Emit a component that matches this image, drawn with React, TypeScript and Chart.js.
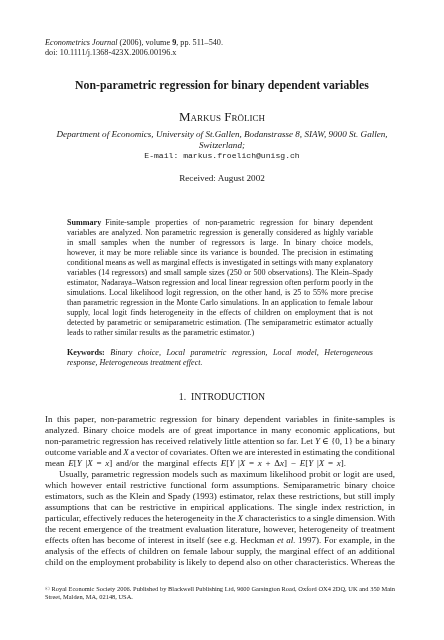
import { useEffect, useLayoutEffect, useRef } from 'react'
import { Chart, registerables } from 'chart.js'

Chart.register(...registerables)

// page text, line by line as set in the reference (*italic*, **bold**)
const headerLines = [
  '*Econometrics Journal* (2006), volume **9**, pp. 511–540.',
  'doi: 10.1111/j.1368-423X.2006.00196.x',
]
const titleText = 'Non-parametric regression for binary dependent variables'
const authorText = 'Markus Frölich'
const affiliationLines = [
  'Department of Economics, University of St.Gallen, Bodanstrasse 8, SIAW, 9000 St. Gallen,',
  'Switzerland;',
]
const emailText = 'E-mail: markus.froelich@unisg.ch'
const receivedText = 'Received: August 2002'
const summaryLines = [
  '**Summary**\u2002Finite-sample properties of non-parametric regression for binary dependent',
  'variables are analyzed. Non parametric regression is generally considered as highly variable',
  'in small samples when the number of regressors is large. In binary choice models,',
  'however, it may be more reliable since its variance is bounded. The precision in estimating',
  'conditional means as well as marginal effects is investigated in settings with many explanatory',
  'variables (14 regressors) and small sample sizes (250 or 500 observations). The Klein–Spady',
  'estimator, Nadaraya–Watson regression and local linear regression often perform poorly in the',
  'simulations. Local likelihood logit regression, on the other hand, is 25 to 55% more precise',
  'than parametric regression in the Monte Carlo simulations. In an application to female labour',
  'supply, local logit finds heterogeneity in the effects of children on employment that is not',
  'detected by parametric or semiparametric estimation. (The semiparametric estimator actually',
  'leads to rather similar results as the parametric estimator.)',
]
const keywordLines = [
  '**Keywords:** *Binary choice, Local parametric regression, Local model, Heterogeneous*',
  '*response, Heterogeneous treatment effect.*',
]
const sectionTitle = '1.\u2002INTRODUCTION'
const introLines = [
  'In this paper, non-parametric regression for binary dependent variables in finite-samples is',
  'analyzed. Binary choice models are of great importance in many economic applications, but',
  'non-parametric regression has received relatively little attention so far. Let *Y* ∈ {0, 1} be a binary',
  'outcome variable and *X* a vector of covariates. Often we are interested in estimating the conditional',
  'mean *E*[*Y* |*X* = *x*] and/or the marginal effects *E*[*Y* |*X* = *x* + Δ*x*] − *E*[*Y* |*X* = *x*].',
  'Usually, parametric regression models such as maximum likelihood probit or logit are used,',
  'which however entail restrictive functional form assumptions. Semiparametric binary choice',
  'estimators, such as the Klein and Spady (1993) estimator, relax these restrictions, but still imply',
  'assumptions that can be restrictive in empirical applications. The single index restriction, in',
  'particular, effectively reduces the heterogeneity in the *X* characteristics to a single dimension. With',
  'the recent emergence of the treatment evaluation literature, however, heterogeneity of treatment',
  'effects often has become of interest in itself (see e.g. Heckman *et al.* 1997). For example, in the',
  'analysis of the effects of children on female labour supply, the marginal effect of an additional',
  'child on the employment probability is likely to depend also on other characteristics. Whereas the',
]
const footnoteLines = [
  '© Royal Economic Society 2006. Published by Blackwell Publishing Ltd, 9600 Garsington Road, Oxford OX4 2DQ, UK and 350 Main',
  'Street, Malden, MA, 02148, USA.',
]

const SERIF = "'Liberation Serif', 'DejaVu Serif', serif"
const MONO = "'Liberation Mono', 'DejaVu Sans Mono', monospace"
const INK = '#1a1a1a'

function Rich({ text }: { text: string }) {
  const parts = text.split(/(\*\*[^*]+\*\*|\*[^*]+\*)/).filter(p => p !== '')
  return (
    <>
      {parts.map((p, i) => {
        if (p.startsWith('**')) return <b key={i}>{p.slice(2, -2)}</b>
        if (p.startsWith('*')) return <i key={i}>{p.slice(1, -1)}</i>
        return <span key={i}>{p}</span>
      })}
    </>
  )
}

type LineProps = {
  text: string
  y: number
  x: number
  w: number
  size: number
  align?: 'left' | 'center' | 'justify'
  family?: string
  style?: React.CSSProperties
}

function Line({ text, y, x, w, size, align = 'left', family = SERIF, style }: LineProps) {
  const spanRef = useRef<HTMLSpanElement>(null)
  const lh = size * 1.3

  // justified lines: spread (or squeeze) the word gaps so the line fills its measure
  useLayoutEffect(() => {
    const el = spanRef.current
    if (!el || align !== 'justify') return
    el.style.wordSpacing = '0px'
    const natural = el.getBoundingClientRect().width
    const gaps = (el.textContent || '').split(' ').length - 1
    if (gaps > 0) el.style.wordSpacing = `${(w - natural) / gaps}px`
  }, [text, w, size, align])

  return (
    <div
      style={{
        position: 'absolute',
        left: x,
        top: y - lh / 2,
        width: w,
        height: lh,
        lineHeight: `${lh}px`,
        fontSize: size,
        fontFamily: family,
        color: INK,
        textAlign: align === 'justify' ? 'left' : align,
        whiteSpace: 'nowrap',
        ...style,
      }}
    >
      <span ref={spanRef}>
        <Rich text={text} />
      </span>
    </div>
  )
}

export default function App() {
  const canvasRef = useRef<HTMLCanvasElement>(null)
  const chartRef = useRef<any>(null)

  useEffect(() => {
    if (!canvasRef.current) return
    if (chartRef.current) chartRef.current.destroy()

    // plain white page background, no plotted marks on this page
    chartRef.current = new Chart(canvasRef.current, {
      type: 'scatter',
      data: { datasets: [] },
      options: {
        animation: false,
        responsive: true,
        maintainAspectRatio: false,
        plugins: { legend: { display: false }, tooltip: { enabled: false } },
        scales: { x: { display: false }, y: { display: false } },
      },
      plugins: [
        {
          id: 'paper',
          beforeDraw: (c: any) => {
            const ctx = c.ctx
            ctx.save()
            ctx.fillStyle = '#ffffff'
            ctx.fillRect(0, 0, c.width, c.height)
            ctx.restore()
          },
        },
      ],
    })

    return () => { if (chartRef.current) chartRef.current.destroy() }
  }, [])

  return (
    <div style={{ position: 'fixed', left: 0, top: 0, width: 444, height: 640, background: '#fff', overflow: 'hidden' }}>
      <div style={{ position: 'absolute', inset: 0 }}>
        <canvas ref={canvasRef} />
      </div>

      {headerLines.map((t, i) => (
        <Line key={'h' + i} text={t} x={45} y={43 + i * 10} w={300} size={8.2} />
      ))}

      <Line text={titleText} x={0} y={86} w={444} size={11.8} align="center" style={{ fontWeight: 'bold' }} />
      <Line text={authorText} x={0} y={117} w={444} size={13} align="center" style={{ fontVariant: 'small-caps' }} />
      {affiliationLines.map((t, i) => (
        <Line key={'a' + i} text={t} x={0} y={135 + i * 10.5} w={444} size={9.1} align="center" style={{ fontStyle: 'italic' }} />
      ))}
      <Line text={emailText} x={0} y={156} w={444} size={8.1} align="center" family={MONO} />
      <Line text={receivedText} x={0} y={179} w={444} size={9.2} align="center" />

      {summaryLines.map((t, i) => (
        <Line key={'s' + i} text={t} x={67} y={223 + i * 10} w={306} size={8.1}
          align={i === summaryLines.length - 1 ? 'left' : 'justify'} />
      ))}
      {keywordLines.map((t, i) => (
        <Line key={'k' + i} text={t} x={67} y={353 + i * 10} w={306} size={8.1}
          align={i === keywordLines.length - 1 ? 'left' : 'justify'} />
      ))}

      <Line text={sectionTitle} x={0} y={397} w={444} size={9.8} align="center" />

      {introLines.map((t, i) => (
        <Line key={'p' + i} text={t} x={i === 5 ? 59 : 45} y={420 + i * 11}
          w={i === 5 ? 336 : i === 4 ? 301 : 350} size={9} align="justify" />
      ))}

      {footnoteLines.map((t, i) => (
        <Line key={'f' + i} text={t} x={45} y={589 + i * 8} w={350} size={6.4}
          align={i === footnoteLines.length - 1 ? 'left' : 'justify'} />
      ))}
    </div>
  )
}
